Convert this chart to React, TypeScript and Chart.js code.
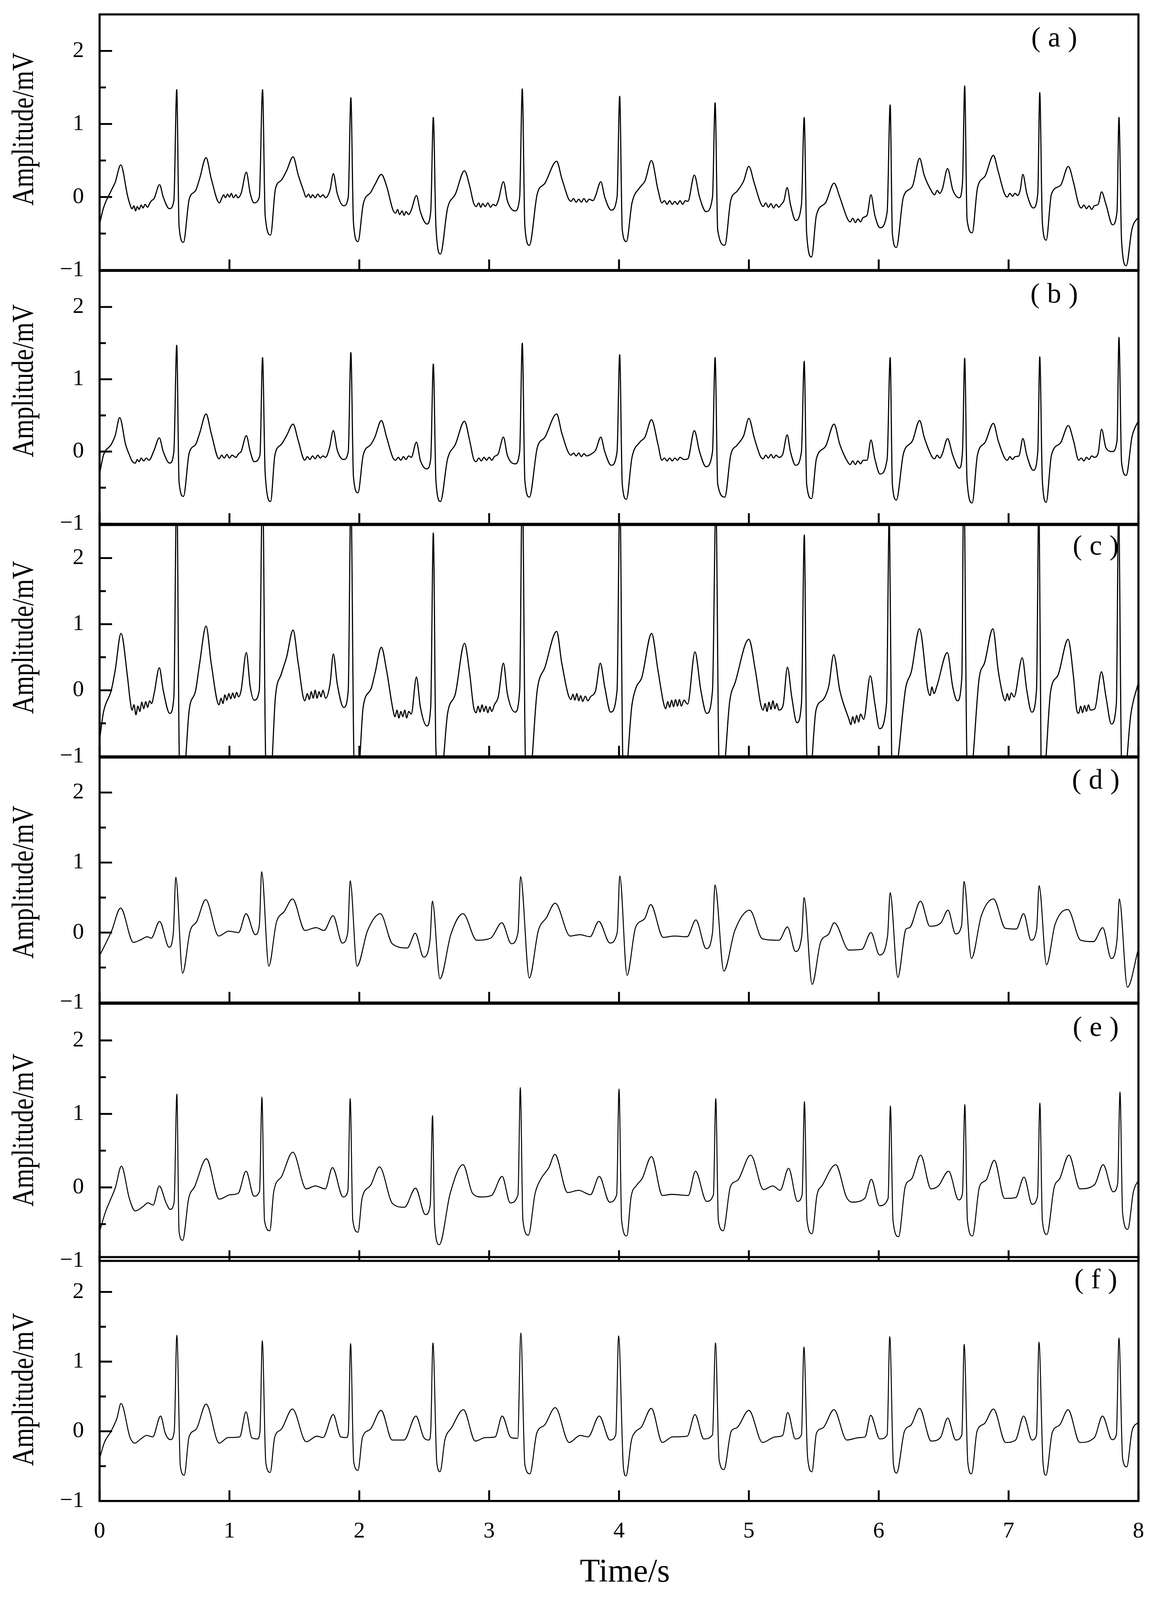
import React, { useEffect, useRef } from "react";
import { Chart, registerables } from "chart.js";

Chart.register(...registerables);

const PAGE_W = 2983;
const PAGE_H = 4218;
const PLOT_LEFT = 255;
const PLOT_RIGHT = 2915;
const SERIF = "'Liberation Serif', 'Times New Roman', serif";

const panelNames = ["(a)", "(b)", "(c)", "(d)", "(e)", "(f)"];
const xTickValues = [0, 1, 2, 3, 4, 5, 6, 7, 8];
const yMajorValues = [-1, 0, 1, 2];
const yMinorValues = [-0.5, 0.5, 1.5];
const xAxisTitle = "Time/s";
const yAxisTitle = "Amplitude/mV";

// [time (s), amplitude (mV)]
const ecgA: [number, number][] = [
  [0, -0.37], [0.03, -0.15], [0.09, 0.09], [0.12, 0.2], [0.163, 0.44], [0.215, 0.02], [0.23, -0.08], [0.25, -0.16], [0.265, -0.12], [0.277, -0.19], [0.29, -0.13], [0.305, -0.17], [0.32, -0.11], [0.335, -0.15], [0.35, -0.1], [0.37, -0.14], [0.385, -0.09], [0.4, -0.05], [0.42, -0.02], [0.462, 0.17], [0.49, 0.0], [0.538, -0.16], [0.572, -0.05], [0.594, 1.47], [0.612, -0.4], [0.646, -0.62], [0.69, -0.03], [0.74, 0.09], [0.77, 0.25], [0.82, 0.54], [0.86, 0.25], [0.923, -0.08], [0.94, -0.02], [0.955, 0.03], [0.97, -0.01], [0.985, 0.04], [1.0, 0.0], [1.015, 0.05], [1.03, -0.01], [1.05, 0.03], [1.065, -0.01], [1.09, 0.05], [1.13, 0.34], [1.16, 0.05], [1.19, -0.08], [1.23, 0.0], [1.255, 1.47], [1.275, -0.25], [1.317, -0.52], [1.354, 0.11], [1.4, 0.23], [1.44, 0.36], [1.49, 0.55], [1.53, 0.3], [1.57, 0.09], [1.59, 0.0], [1.61, 0.04], [1.625, -0.01], [1.64, 0.03], [1.66, -0.01], [1.68, 0.04], [1.7, 0.0], [1.72, 0.03], [1.74, -0.01], [1.775, 0.1], [1.8, 0.32], [1.83, 0.05], [1.88, -0.12], [1.915, 0.0], [1.935, 1.36], [1.955, -0.35], [1.99, -0.61], [2.03, -0.1], [2.09, 0.07], [2.12, 0.17], [2.17, 0.31], [2.21, 0.15], [2.26, -0.18], [2.28, -0.22], [2.295, -0.17], [2.31, -0.24], [2.33, -0.19], [2.345, -0.25], [2.36, -0.2], [2.38, -0.24], [2.4, -0.18], [2.44, 0.02], [2.47, -0.2], [2.52, -0.37], [2.55, -0.2], [2.57, 1.09], [2.59, -0.4], [2.625, -0.78], [2.68, -0.15], [2.74, 0.04], [2.81, 0.36], [2.85, 0.15], [2.88, -0.08], [2.9, -0.13], [2.92, -0.08], [2.935, -0.14], [2.95, -0.09], [2.97, -0.13], [2.99, -0.08], [3.01, -0.14], [3.03, -0.1], [3.05, -0.12], [3.07, -0.05], [3.11, 0.21], [3.14, -0.05], [3.2, -0.19], [3.235, 0.0], [3.255, 1.48], [3.275, -0.4], [3.31, -0.66], [3.37, 0.04], [3.43, 0.19], [3.52, 0.49], [3.56, 0.25], [3.63, -0.06], [3.65, -0.02], [3.67, -0.07], [3.69, -0.03], [3.71, -0.07], [3.73, -0.02], [3.75, -0.07], [3.77, -0.03], [3.8, -0.05], [3.82, 0.02], [3.86, 0.21], [3.89, 0.0], [3.94, -0.18], [3.985, 0.0], [4.005, 1.38], [4.025, -0.45], [4.057, -0.61], [4.1, -0.08], [4.16, 0.13], [4.2, 0.22], [4.25, 0.5], [4.3, 0.1], [4.33, -0.08], [4.35, -0.05], [4.37, -0.1], [4.39, -0.05], [4.41, -0.1], [4.43, -0.06], [4.45, -0.1], [4.47, -0.05], [4.49, -0.1], [4.51, -0.05], [4.53, -0.06], [4.58, 0.3], [4.62, 0.0], [4.67, -0.2], [4.72, 0.0], [4.74, 1.29], [4.76, -0.45], [4.815, -0.66], [4.86, -0.05], [4.91, 0.08], [4.96, 0.22], [5.0, 0.42], [5.04, 0.2], [5.09, -0.08], [5.11, -0.13], [5.13, -0.08], [5.15, -0.14], [5.17, -0.09], [5.19, -0.15], [5.21, -0.1], [5.23, -0.14], [5.25, -0.1], [5.27, -0.05], [5.295, 0.13], [5.32, -0.1], [5.36, -0.32], [5.405, -0.1], [5.426, 1.09], [5.445, -0.5], [5.483, -0.82], [5.52, -0.25], [5.59, -0.08], [5.656, 0.19], [5.7, 0.0], [5.76, -0.3], [5.78, -0.34], [5.8, -0.29], [5.82, -0.35], [5.84, -0.3], [5.86, -0.34], [5.88, -0.28], [5.91, -0.25], [5.94, 0.03], [5.97, -0.25], [6.01, -0.42], [6.065, -0.2], [6.088, 1.26], [6.105, -0.5], [6.136, -0.69], [6.19, 0.0], [6.26, 0.15], [6.315, 0.53], [6.35, 0.3], [6.41, 0.07], [6.43, 0.03], [6.45, 0.09], [6.47, 0.05], [6.49, 0.11], [6.53, 0.39], [6.57, 0.1], [6.62, -0.01], [6.645, 0.2], [6.662, 1.52], [6.68, -0.3], [6.72, -0.49], [6.76, 0.12], [6.82, 0.29], [6.883, 0.57], [6.92, 0.35], [6.97, 0.04], [6.99, 0.0], [7.01, 0.05], [7.03, 0.01], [7.05, 0.05], [7.07, 0.02], [7.09, 0.1], [7.11, 0.31], [7.14, 0.05], [7.19, -0.15], [7.225, 0.05], [7.24, 1.43], [7.26, -0.35], [7.29, -0.59], [7.33, 0.04], [7.4, 0.16], [7.46, 0.42], [7.5, 0.2], [7.54, -0.1], [7.56, -0.15], [7.58, -0.11], [7.6, -0.16], [7.62, -0.12], [7.64, -0.17], [7.66, -0.12], [7.69, -0.1], [7.716, 0.07], [7.75, -0.1], [7.8, -0.38], [7.835, -0.2], [7.85, 1.09], [7.87, -0.6], [7.906, -0.94], [7.95, -0.44], [8.0, -0.27],
];

const ecgB: [number, number][] = [
  [0, -0.31], [0.03, -0.05], [0.09, 0.1], [0.12, 0.22], [0.155, 0.47], [0.2, 0.1], [0.23, -0.05], [0.25, -0.13], [0.275, -0.16], [0.29, -0.11], [0.305, -0.14], [0.32, -0.09], [0.34, -0.13], [0.36, -0.09], [0.38, -0.12], [0.42, 0.02], [0.46, 0.19], [0.49, 0.0], [0.54, -0.16], [0.572, 0.0], [0.594, 1.47], [0.612, -0.42], [0.646, -0.62], [0.69, -0.02], [0.74, 0.1], [0.77, 0.25], [0.82, 0.52], [0.86, 0.25], [0.92, -0.1], [0.94, -0.05], [0.96, -0.09], [0.98, -0.04], [1.0, -0.09], [1.02, -0.05], [1.05, -0.08], [1.07, -0.03], [1.09, 0.0], [1.13, 0.22], [1.16, 0.0], [1.19, -0.14], [1.235, -0.05], [1.255, 1.3], [1.275, -0.3], [1.317, -0.69], [1.35, -0.05], [1.4, 0.1], [1.44, 0.22], [1.49, 0.38], [1.53, 0.15], [1.58, -0.12], [1.6, -0.07], [1.62, -0.11], [1.64, -0.06], [1.66, -0.1], [1.68, -0.05], [1.7, -0.09], [1.72, -0.06], [1.74, -0.08], [1.77, 0.05], [1.8, 0.29], [1.83, 0.02], [1.88, -0.11], [1.915, 0.0], [1.935, 1.37], [1.955, -0.35], [1.99, -0.57], [2.03, -0.05], [2.09, 0.1], [2.12, 0.2], [2.17, 0.43], [2.21, 0.2], [2.26, -0.09], [2.28, -0.12], [2.3, -0.08], [2.32, -0.12], [2.34, -0.07], [2.36, -0.11], [2.38, -0.06], [2.4, -0.08], [2.44, 0.13], [2.47, -0.12], [2.52, -0.24], [2.55, -0.1], [2.57, 1.21], [2.59, -0.4], [2.625, -0.69], [2.68, -0.1], [2.74, 0.1], [2.81, 0.42], [2.85, 0.15], [2.88, -0.1], [2.9, -0.14], [2.92, -0.09], [2.94, -0.13], [2.96, -0.08], [2.98, -0.12], [3.0, -0.08], [3.02, -0.12], [3.04, -0.07], [3.07, -0.03], [3.11, 0.2], [3.14, -0.05], [3.2, -0.17], [3.235, 0.0], [3.255, 1.5], [3.275, -0.4], [3.31, -0.63], [3.37, 0.05], [3.43, 0.2], [3.52, 0.52], [3.56, 0.25], [3.63, -0.05], [3.65, -0.02], [3.67, -0.06], [3.69, -0.02], [3.71, -0.07], [3.73, -0.03], [3.75, -0.06], [3.78, -0.04], [3.82, 0.02], [3.86, 0.2], [3.89, 0.0], [3.94, -0.19], [3.985, 0.0], [4.005, 1.34], [4.025, -0.45], [4.057, -0.66], [4.1, -0.08], [4.16, 0.13], [4.2, 0.2], [4.25, 0.44], [4.3, 0.1], [4.33, -0.12], [4.35, -0.09], [4.37, -0.13], [4.39, -0.09], [4.41, -0.13], [4.43, -0.09], [4.45, -0.12], [4.47, -0.08], [4.5, -0.11], [4.53, -0.1], [4.58, 0.29], [4.62, 0.0], [4.67, -0.21], [4.72, 0.0], [4.74, 1.3], [4.76, -0.45], [4.815, -0.63], [4.86, -0.05], [4.91, 0.09], [4.96, 0.22], [5.0, 0.46], [5.04, 0.2], [5.09, -0.07], [5.11, -0.1], [5.13, -0.05], [5.15, -0.09], [5.17, -0.04], [5.19, -0.09], [5.21, -0.05], [5.23, -0.08], [5.26, -0.04], [5.295, 0.23], [5.32, 0.0], [5.36, -0.19], [5.405, 0.0], [5.426, 1.25], [5.445, -0.45], [5.483, -0.65], [5.52, -0.1], [5.59, 0.07], [5.656, 0.38], [5.7, 0.1], [5.76, -0.14], [5.78, -0.18], [5.8, -0.13], [5.82, -0.18], [5.84, -0.13], [5.86, -0.17], [5.88, -0.12], [5.91, -0.12], [5.94, 0.16], [5.97, -0.1], [6.01, -0.31], [6.065, -0.1], [6.088, 1.3], [6.105, -0.45], [6.136, -0.67], [6.19, -0.03], [6.26, 0.15], [6.315, 0.43], [6.35, 0.2], [6.41, -0.07], [6.43, -0.1], [6.45, -0.05], [6.47, -0.09], [6.49, -0.03], [6.53, 0.18], [6.57, -0.05], [6.62, -0.23], [6.645, 0.0], [6.662, 1.29], [6.68, -0.4], [6.72, -0.71], [6.76, -0.05], [6.82, 0.13], [6.883, 0.39], [6.92, 0.15], [6.97, -0.09], [6.99, -0.12], [7.01, -0.07], [7.03, -0.11], [7.05, -0.07], [7.08, -0.06], [7.11, 0.18], [7.14, -0.05], [7.19, -0.26], [7.225, 0.0], [7.24, 1.31], [7.26, -0.4], [7.29, -0.7], [7.33, -0.05], [7.4, 0.12], [7.46, 0.36], [7.5, 0.15], [7.54, -0.12], [7.56, -0.09], [7.58, -0.13], [7.6, -0.08], [7.62, -0.11], [7.64, -0.06], [7.66, -0.08], [7.69, -0.02], [7.716, 0.31], [7.75, 0.05], [7.8, 0.0], [7.835, 0.15], [7.85, 1.58], [7.87, -0.15], [7.906, -0.33], [7.95, 0.2], [8.0, 0.43],
];

const ecgC: [number, number][] = [
  [0, -0.75], [0.03, -0.33], [0.09, 0.0], [0.12, 0.3], [0.165, 0.86], [0.215, 0.2], [0.235, -0.15], [0.25, -0.3], [0.265, -0.22], [0.28, -0.37], [0.295, -0.24], [0.31, -0.32], [0.325, -0.18], [0.34, -0.28], [0.355, -0.17], [0.37, -0.26], [0.385, -0.16], [0.4, -0.2], [0.42, -0.05], [0.46, 0.34], [0.49, 0.0], [0.54, -0.35], [0.572, -0.1], [0.594, 3.2], [0.615, -1.1], [0.645, -1.35], [0.69, -0.3], [0.74, 0.0], [0.77, 0.4], [0.82, 0.97], [0.86, 0.4], [0.92, -0.22], [0.935, -0.12], [0.95, -0.2], [0.965, -0.07], [0.98, -0.15], [0.995, -0.05], [1.01, -0.13], [1.025, -0.04], [1.04, -0.12], [1.055, -0.03], [1.07, -0.1], [1.09, 0.0], [1.13, 0.57], [1.16, 0.05], [1.19, -0.15], [1.23, 0.0], [1.255, 3.2], [1.28, -1.1], [1.317, -1.3], [1.354, -0.1], [1.4, 0.25], [1.44, 0.5], [1.49, 0.91], [1.53, 0.4], [1.58, -0.16], [1.6, -0.05], [1.615, -0.14], [1.63, -0.02], [1.645, -0.12], [1.66, 0.0], [1.675, -0.12], [1.69, -0.02], [1.705, -0.1], [1.72, 0.0], [1.74, -0.12], [1.775, 0.1], [1.8, 0.55], [1.83, 0.1], [1.88, -0.26], [1.915, 0.0], [1.935, 3.0], [1.96, -1.1], [1.99, -1.3], [2.03, -0.25], [2.09, 0.02], [2.12, 0.25], [2.17, 0.65], [2.21, 0.3], [2.26, -0.3], [2.275, -0.4], [2.29, -0.3], [2.305, -0.42], [2.32, -0.32], [2.335, -0.4], [2.35, -0.3], [2.365, -0.42], [2.38, -0.32], [2.4, -0.36], [2.44, 0.2], [2.47, -0.25], [2.52, -0.54], [2.55, -0.25], [2.57, 2.38], [2.59, -0.9], [2.625, -1.4], [2.68, -0.35], [2.74, -0.05], [2.81, 0.71], [2.85, 0.25], [2.88, -0.25], [2.9, -0.34], [2.915, -0.24], [2.93, -0.33], [2.945, -0.22], [2.96, -0.32], [2.975, -0.24], [2.99, -0.34], [3.005, -0.25], [3.02, -0.32], [3.04, -0.22], [3.07, -0.1], [3.11, 0.41], [3.14, -0.05], [3.2, -0.33], [3.235, 0.0], [3.255, 3.2], [3.28, -1.1], [3.31, -1.35], [3.37, 0.0], [3.43, 0.35], [3.52, 0.89], [3.56, 0.4], [3.63, -0.14], [3.645, -0.06], [3.66, -0.15], [3.675, -0.05], [3.69, -0.16], [3.705, -0.08], [3.72, -0.17], [3.74, -0.09], [3.76, -0.16], [3.78, -0.1], [3.82, 0.0], [3.856, 0.41], [3.89, 0.05], [3.935, -0.33], [3.985, 0.0], [4.006, 3.0], [4.03, -1.1], [4.048, -1.3], [4.099, -0.23], [4.133, 0.05], [4.175, 0.19], [4.251, 0.86], [4.3, 0.3], [4.345, -0.21], [4.36, -0.28], [4.375, -0.17], [4.39, -0.26], [4.405, -0.15], [4.42, -0.25], [4.435, -0.14], [4.45, -0.24], [4.465, -0.14], [4.48, -0.24], [4.5, -0.15], [4.528, -0.21], [4.585, 0.58], [4.63, 0.0], [4.675, -0.35], [4.72, 0.0], [4.746, 2.85], [4.77, -1.1], [4.797, -1.35], [4.853, -0.16], [4.895, 0.12], [5.0, 0.77], [5.05, 0.3], [5.093, -0.23], [5.11, -0.3], [5.125, -0.2], [5.14, -0.32], [5.155, -0.18], [5.17, -0.29], [5.185, -0.16], [5.2, -0.28], [5.215, -0.2], [5.23, -0.3], [5.263, -0.23], [5.297, 0.35], [5.33, -0.1], [5.37, -0.49], [5.405, -0.2], [5.427, 2.35], [5.445, -0.9], [5.466, -1.4], [5.517, -0.3], [5.573, -0.14], [5.616, 0.07], [5.653, 0.54], [5.7, 0.0], [5.771, -0.44], [5.785, -0.52], [5.8, -0.4], [5.815, -0.5], [5.83, -0.38], [5.845, -0.48], [5.86, -0.36], [5.884, -0.44], [5.935, 0.22], [5.97, -0.2], [6.006, -0.58], [6.06, -0.2], [6.082, 2.8], [6.1, -1.1], [6.12, -1.3], [6.209, 0.05], [6.251, 0.28], [6.314, 0.93], [6.379, 0.0], [6.395, -0.08], [6.41, 0.05], [6.425, -0.05], [6.449, 0.07], [6.528, 0.57], [6.57, 0.05], [6.605, -0.16], [6.64, 0.2], [6.655, 3.3], [6.68, -1.1], [6.703, -1.35], [6.774, 0.19], [6.816, 0.42], [6.879, 0.93], [6.92, 0.3], [6.958, -0.09], [6.975, -0.16], [6.99, -0.05], [7.005, -0.15], [7.02, -0.04], [7.042, -0.1], [7.105, 0.49], [7.14, 0.0], [7.178, -0.33], [7.215, 0.0], [7.234, 3.1], [7.25, -1.1], [7.268, -1.35], [7.325, 0.0], [7.381, 0.23], [7.458, 0.77], [7.5, 0.2], [7.523, -0.28], [7.54, -0.35], [7.555, -0.24], [7.57, -0.34], [7.585, -0.23], [7.6, -0.32], [7.615, -0.22], [7.63, -0.3], [7.664, -0.28], [7.715, 0.28], [7.75, -0.1], [7.791, -0.51], [7.83, -0.2], [7.847, 2.8], [7.87, -1.1], [7.89, -1.35], [7.941, -0.37], [8.0, 0.12],
];

const ecgD: [number, number][] = [
  [0, -0.33], [0.092, 0.02], [0.162, 0.35], [0.26, -0.14], [0.32, -0.1], [0.367, -0.06], [0.398, -0.08], [0.462, 0.16], [0.535, -0.21], [0.568, 0.0], [0.587, 0.79], [0.639, -0.58], [0.697, 0.02], [0.749, 0.16], [0.817, 0.47], [0.917, -0.05], [0.994, 0.02], [1.07, 0.0], [1.128, 0.27], [1.199, -0.03], [1.23, 0.1], [1.248, 0.87], [1.303, -0.48], [1.361, 0.14], [1.422, 0.3], [1.486, 0.48], [1.581, 0.03], [1.667, 0.07], [1.728, 0.03], [1.798, 0.24], [1.869, -0.15], [1.911, 0.0], [1.93, 0.74], [1.982, -0.48], [2.064, 0.03], [2.162, 0.27], [2.254, -0.16], [2.37, -0.22], [2.431, -0.01], [2.495, -0.35], [2.545, -0.1], [2.563, 0.45], [2.621, -0.66], [2.706, -0.02], [2.798, 0.27], [2.905, -0.11], [3.012, -0.08], [3.098, 0.14], [3.171, -0.16], [3.222, 0.0], [3.242, 0.8], [3.309, -0.65], [3.379, 0.03], [3.44, 0.21], [3.508, 0.42], [3.624, -0.05], [3.7, -0.03], [3.777, -0.06], [3.844, 0.16], [3.93, -0.15], [3.986, 0.0], [4.006, 0.81], [4.062, -0.61], [4.127, 0.07], [4.198, 0.2], [4.244, 0.4], [4.34, -0.07], [4.425, -0.05], [4.524, -0.06], [4.592, 0.18], [4.671, -0.23], [4.72, 0.0], [4.739, 0.68], [4.807, -0.55], [4.892, 0.03], [5.006, 0.32], [5.105, -0.09], [5.232, -0.11], [5.297, 0.08], [5.359, -0.27], [5.407, -0.05], [5.425, 0.5], [5.487, -0.74], [5.552, -0.14], [5.615, -0.02], [5.657, 0.14], [5.771, -0.25], [5.87, -0.24], [5.94, 0.0], [6.006, -0.32], [6.068, -0.05], [6.088, 0.57], [6.147, -0.64], [6.21, 0.05], [6.238, 0.07], [6.322, 0.45], [6.394, 0.09], [6.479, 0.14], [6.533, 0.32], [6.592, -0.02], [6.638, 0.1], [6.657, 0.73], [6.714, -0.37], [6.79, 0.24], [6.884, 0.48], [6.975, 0.06], [7.059, 0.05], [7.116, 0.27], [7.173, -0.11], [7.216, 0.05], [7.235, 0.67], [7.292, -0.46], [7.357, 0.11], [7.456, 0.33], [7.555, -0.11], [7.654, -0.13], [7.725, 0.07], [7.79, -0.37], [7.835, -0.1], [7.853, 0.48], [7.915, -0.78], [8.0, -0.23],
];

const ecgE: [number, number][] = [
  [0, -0.6], [0.046, -0.33], [0.076, -0.2], [0.122, 0.0], [0.168, 0.29], [0.229, -0.15], [0.274, -0.32], [0.335, -0.26], [0.372, -0.21], [0.412, -0.24], [0.46, 0.02], [0.512, -0.21], [0.543, -0.3], [0.574, -0.2], [0.595, 1.27], [0.612, -0.6], [0.64, -0.72], [0.686, -0.15], [0.732, 0.01], [0.823, 0.39], [0.921, -0.16], [1.006, -0.1], [1.067, -0.08], [1.128, 0.22], [1.189, -0.12], [1.232, -0.05], [1.25, 1.23], [1.27, -0.45], [1.311, -0.59], [1.341, -0.06], [1.402, 0.15], [1.488, 0.48], [1.591, -0.02], [1.662, 0.02], [1.738, -0.02], [1.793, 0.27], [1.875, -0.13], [1.912, -0.05], [1.93, 1.21], [1.95, -0.45], [1.99, -0.61], [2.021, -0.15], [2.088, 0.03], [2.155, 0.28], [2.256, -0.22], [2.348, -0.27], [2.433, -0.01], [2.509, -0.37], [2.546, -0.25], [2.564, 0.98], [2.58, -0.5], [2.616, -0.78], [2.7, -0.08], [2.799, 0.31], [2.872, -0.08], [2.942, -0.13], [3.018, -0.11], [3.1, 0.15], [3.162, -0.21], [3.222, -0.1], [3.24, 1.36], [3.26, -0.45], [3.302, -0.65], [3.354, -0.08], [3.4, 0.12], [3.46, 0.27], [3.506, 0.45], [3.604, -0.07], [3.689, -0.04], [3.78, -0.1], [3.848, 0.15], [3.927, -0.2], [3.982, -0.1], [4.0, 1.34], [4.02, -0.45], [4.06, -0.66], [4.093, -0.13], [4.136, 0.03], [4.178, 0.12], [4.25, 0.42], [4.334, -0.11], [4.405, -0.095], [4.533, -0.11], [4.589, 0.22], [4.674, -0.19], [4.727, -0.1], [4.745, 1.21], [4.765, -0.45], [4.802, -0.59], [4.858, 0.01], [4.915, 0.1], [5.014, 0.44], [5.113, -0.03], [5.184, 0.02], [5.241, -0.04], [5.306, 0.26], [5.374, -0.19], [5.41, -0.1], [5.428, 1.17], [5.448, -0.45], [5.487, -0.63], [5.524, -0.11], [5.566, 0.03], [5.669, 0.31], [5.751, -0.13], [5.793, -0.2], [5.892, -0.15], [5.943, 0.11], [6.006, -0.25], [6.072, -0.15], [6.09, 1.11], [6.11, -0.45], [6.153, -0.67], [6.204, 0.01], [6.255, 0.12], [6.323, 0.44], [6.402, -0.02], [6.459, 0.02], [6.538, 0.22], [6.615, -0.17], [6.645, -0.08], [6.663, 1.13], [6.683, -0.45], [6.722, -0.66], [6.776, 0.01], [6.827, 0.1], [6.89, 0.37], [6.969, -0.15], [7.054, -0.14], [7.119, 0.14], [7.181, -0.23], [7.223, -0.12], [7.241, 1.15], [7.26, -0.45], [7.295, -0.64], [7.351, 0.0], [7.394, 0.12], [7.465, 0.44], [7.549, -0.02], [7.663, 0.04], [7.728, 0.31], [7.805, -0.06], [7.84, 0.05], [7.858, 1.3], [7.878, -0.35], [7.918, -0.57], [7.961, -0.06], [8.0, 0.1],
];

const ecgF: [number, number][] = [
  [0, -0.39], [0.037, -0.16], [0.088, 0.0], [0.134, 0.19], [0.165, 0.4], [0.235, -0.09], [0.271, -0.17], [0.317, -0.11], [0.363, -0.06], [0.409, -0.08], [0.47, 0.22], [0.506, -0.03], [0.546, -0.12], [0.575, 0.0], [0.595, 1.38], [0.622, -0.5], [0.652, -0.63], [0.689, -0.08], [0.744, 0.03], [0.82, 0.39], [0.921, -0.17], [0.988, -0.09], [1.079, -0.08], [1.128, 0.28], [1.171, -0.09], [1.216, -0.11], [1.235, 0.0], [1.253, 1.3], [1.28, -0.45], [1.314, -0.59], [1.348, -0.09], [1.4, 0.03], [1.485, 0.32], [1.591, -0.15], [1.674, -0.07], [1.72, -0.09], [1.799, 0.24], [1.857, -0.08], [1.902, -0.09], [1.916, 0.0], [1.933, 1.26], [1.957, -0.44], [1.99, -0.56], [2.024, -0.09], [2.085, 0.03], [2.168, 0.3], [2.253, -0.125], [2.345, -0.125], [2.436, 0.22], [2.497, -0.09], [2.537, -0.125], [2.55, 0.0], [2.567, 1.27], [2.597, -0.45], [2.622, -0.58], [2.659, -0.125], [2.71, 0.05], [2.802, 0.31], [2.893, -0.14], [2.97, -0.09], [3.046, -0.08], [3.1, 0.22], [3.168, -0.09], [3.22, -0.1], [3.244, 1.41], [3.275, -0.48], [3.314, -0.61], [3.366, -0.03], [3.427, 0.09], [3.509, 0.34], [3.616, -0.16], [3.701, -0.06], [3.762, -0.08], [3.848, 0.22], [3.93, -0.125], [3.975, -0.05], [3.997, 1.37], [4.034, -0.52], [4.054, -0.64], [4.096, -0.125], [4.13, 0.0], [4.172, 0.06], [4.249, 0.33], [4.333, -0.16], [4.412, -0.08], [4.525, -0.07], [4.585, 0.24], [4.653, -0.11], [4.72, -0.05], [4.743, 1.27], [4.771, -0.41], [4.808, -0.55], [4.864, 0.0], [4.907, 0.05], [5.0, 0.3], [5.105, -0.16], [5.203, -0.08], [5.26, -0.06], [5.299, 0.27], [5.358, -0.11], [5.405, -0.05], [5.424, 1.21], [5.452, -0.37], [5.486, -0.58], [5.52, -0.03], [5.571, 0.05], [5.655, 0.31], [5.754, -0.125], [5.853, -0.09], [5.895, -0.08], [5.938, 0.23], [6.008, -0.11], [6.065, -0.05], [6.085, 1.36], [6.113, -0.47], [6.138, -0.6], [6.198, 0.0], [6.249, 0.09], [6.314, 0.33], [6.404, -0.14], [6.475, -0.09], [6.531, 0.19], [6.593, -0.125], [6.64, -0.05], [6.658, 1.25], [6.686, -0.45], [6.715, -0.61], [6.757, 0.0], [6.814, 0.11], [6.884, 0.32], [6.977, -0.16], [7.054, -0.125], [7.116, 0.22], [7.181, -0.125], [7.215, -0.05], [7.234, 1.28], [7.265, -0.45], [7.288, -0.63], [7.336, -0.02], [7.393, 0.09], [7.458, 0.31], [7.548, -0.16], [7.661, -0.09], [7.723, 0.22], [7.797, -0.12], [7.83, -0.05], [7.85, 1.34], [7.878, -0.39], [7.91, -0.51], [7.95, 0.0], [8.0, 0.13],
];

const series = [ecgA, ecgB, ecgC, ecgD, ecgE, ecgF];

// layout / style only (pixel boxes of each plot area on a 2983x4218 page)
const panelBoxes = [
  { top: 38, bottom: 712, nameT: 7.38, nameV: 2.16, titleV: 0.93, lw: 3 },
  { top: 714, bottom: 1381, nameT: 7.38, nameV: 2.16, titleV: 0.98, lw: 3 },
  { top: 1384, bottom: 1994, nameT: 7.7, nameV: 2.16, titleV: 0.8, lw: 3 },
  { top: 1997, bottom: 2643, nameT: 7.7, nameV: 2.16, titleV: 0.72, lw: 2.6 },
  { top: 2646, bottom: 3324, nameT: 7.7, nameV: 2.16, titleV: 0.78, lw: 2.6 },
  { top: 3314, bottom: 3957, nameT: 7.7, nameV: 2.16, titleV: 0.6, lw: 2.6 },
];

function fmtTick(v: number): string {
  return v < 0 ? "\u2212" + Math.abs(v) : String(v);
}

function EcgPanel({ index, sx, sy }: { index: number; sx: number; sy: number }) {
  const ref = useRef<HTMLCanvasElement | null>(null);
  const box = panelBoxes[index];
  const last = index === panelBoxes.length - 1;
  const fs = Math.min(sx, sy);
  const pageW = Math.round(PAGE_W * sx);
  const pageH = Math.round(PAGE_H * sy);
  const top = box.top * sy;
  const bottom = box.bottom * sy;
  const plotH = bottom - top;
  const canvasTop = Math.max(0, Math.round(top - 40 * sy));
  const padTop = top - canvasTop;
  const axisH = last ? 110 * sy : 0;
  const canvasH = last ? pageH - canvasTop : Math.round(padTop + plotH + 40 * sy);
  const padBottom = canvasH - padTop - plotH - axisH;
  const plotLeft = PLOT_LEFT * sx;
  const padRight = pageW - PLOT_RIGHT * sx;

  useEffect(() => {
    const canvas = ref.current;
    if (!canvas) return;
    const pts = series[index].map(([x, y]) => ({ x, y }));
    const deco = {
      id: "deco" + index,
      afterDatasetsDraw(chart: any) {
        const { ctx, chartArea: a, scales } = chart;
        const xs = scales.x;
        const ys = scales.y;
        ctx.save();
        ctx.strokeStyle = "#000";
        ctx.fillStyle = "#000";
        ctx.lineWidth = 5 * fs;
        ctx.beginPath();
        yMajorValues.forEach((v) => {
          const py = ys.getPixelForValue(v);
          ctx.moveTo(a.left, py);
          ctx.lineTo(a.left + 32 * sx, py);
        });
        yMinorValues.forEach((v) => {
          const py = ys.getPixelForValue(v);
          ctx.moveTo(a.left, py);
          ctx.lineTo(a.left + 16 * sx, py);
        });
        xTickValues.forEach((v) => {
          const px = xs.getPixelForValue(v);
          ctx.moveTo(px, a.bottom);
          ctx.lineTo(px, a.bottom - 28 * sy);
        });
        ctx.stroke();
        ctx.lineWidth = 5.5 * fs;
        ctx.strokeRect(a.left, a.top, a.right - a.left, a.bottom - a.top);

        ctx.textAlign = "center";
        ctx.textBaseline = "middle";
        ctx.font = `${Math.round(74 * fs)}px ${SERIF}`;
        (ctx as any).letterSpacing = `${Math.round(20 * fs)}px`;
        ctx.fillText(panelNames[index], xs.getPixelForValue(box.nameT), ys.getPixelForValue(box.nameV));
        (ctx as any).letterSpacing = "0px";

        ctx.save();
        ctx.translate(64 * sx, ys.getPixelForValue(box.titleV));
        ctx.rotate(-Math.PI / 2);
        ctx.scale(0.83, 1);
        ctx.font = `${Math.round(80 * fs)}px ${SERIF}`;
        ctx.fillText(yAxisTitle, 0, 0);
        ctx.restore();

        if (last) {
          ctx.font = `${Math.round(86 * fs)}px ${SERIF}`;
          ctx.fillText(xAxisTitle, (a.left + a.right) / 2 + 15 * sx, a.bottom + 190 * sy);
        }
        ctx.restore();
      },
    };

    const chart = new Chart(canvas, {
      type: "line",
      data: {
        datasets: [
          {
            data: pts,
            borderColor: "#000",
            borderWidth: box.lw * fs,
            pointRadius: 0,
            fill: false,
            cubicInterpolationMode: "monotone",
          } as any,
        ],
      },
      options: {
        responsive: false,
        animation: false,
        devicePixelRatio: 1,
        events: [],
        layout: { padding: { top: padTop, bottom: padBottom, left: 0, right: padRight } },
        plugins: { legend: { display: false }, tooltip: { enabled: false }, title: { display: false } },
        scales: {
          x: {
            type: "linear",
            min: 0,
            max: 8,
            grid: { display: false, drawTicks: false },
            border: { display: false },
            afterBuildTicks: (s: any) => {
              s.ticks = xTickValues.map((v) => ({ value: v }));
            },
            afterFit: (s: any) => {
              s.height = axisH;
              s.paddingLeft = 0;
              s.paddingRight = 0;
            },
            ticks: {
              display: last,
              autoSkip: false,
              maxRotation: 0,
              padding: 45 * sy,
              color: "#000",
              font: { family: SERIF, size: Math.round(60 * fs) },
              callback: (v: any) => fmtTick(Number(v)),
            },
          },
          y: {
            type: "linear",
            min: -1,
            max: 2.5,
            grid: { display: false, drawTicks: false },
            border: { display: false },
            afterBuildTicks: (s: any) => {
              s.ticks = yMajorValues.map((v) => ({ value: v }));
            },
            afterFit: (s: any) => {
              s.width = plotLeft;
              s.paddingTop = 0;
              s.paddingBottom = 0;
            },
            ticks: {
              padding: 40 * sx,
              color: "#000",
              font: { family: SERIF, size: Math.round(60 * fs) },
              callback: (v: any) => fmtTick(Number(v)),
            },
          },
        },
      } as any,
      plugins: [deco],
    });
    return () => chart.destroy();
  }, []);

  return (
    <canvas
      ref={ref}
      width={pageW}
      height={canvasH}
      style={{ position: "absolute", left: 0, top: canvasTop, width: pageW, height: canvasH }}
    />
  );
}

export default function App() {
  const vw = typeof window !== "undefined" ? document.documentElement.clientWidth || window.innerWidth : PAGE_W;
  const vh = typeof window !== "undefined" ? window.innerHeight : PAGE_H;
  const sx = vw > 0 ? Math.min(1, vw / PAGE_W) : 1;
  const sy = vh > 0 ? Math.min(1, vh / PAGE_H) : 1;
  return (
    <div
      style={{
        position: "absolute",
        left: 0,
        top: 0,
        width: Math.round(PAGE_W * sx),
        height: Math.round(PAGE_H * sy),
        background: "#fff",
        overflow: "hidden",
      }}
    >
      {panelBoxes.map((_, i) => (
        <EcgPanel key={i} index={i} sx={sx} sy={sy} />
      ))}
    </div>
  );
}
